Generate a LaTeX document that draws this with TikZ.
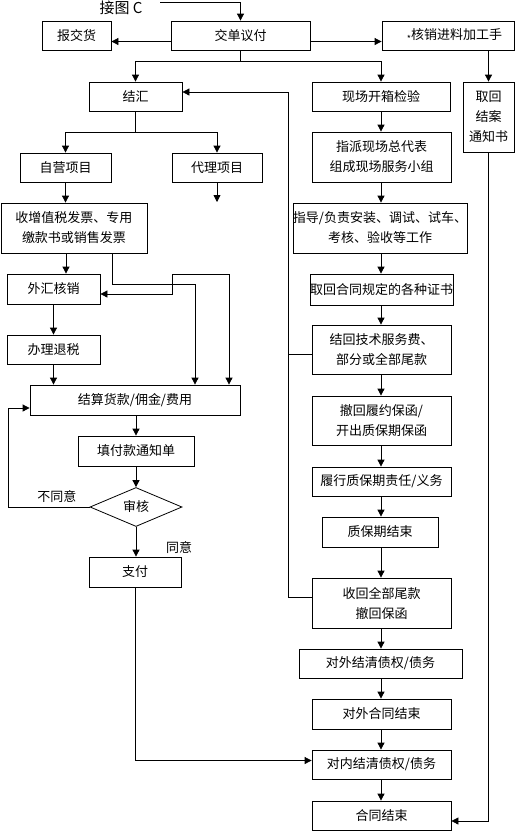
\documentclass[tikz,border=0pt]{standalone}
\usepackage{fontspec}
\setmainfont{Noto Sans CJK SC}
\usetikzlibrary{shapes.geometric,arrows.meta,calc}

\begin{document}
\begin{tikzpicture}[x=1pt,y=-1pt,>={Triangle[length=7pt,width=7pt]},
  box/.style={draw,line width=0.8pt,inner sep=0pt,align=center,
    font=\fontsize{13}{20}\selectfont},
  decide/.style={draw,diamond,line width=0.8pt,inner sep=0pt,
    font=\fontsize{13}{20}\selectfont},
  line/.style={line width=0.8pt}]

\useasboundingbox (0,0) rectangle (515,831);

%------------------------
% Top row
%------------------------
\node[font=\fontsize{15}{15}\selectfont] (jt) at (121,8) {接图 C};
\coordinate (jtend) at (160,2);
\node[box,minimum width=139pt,minimum height=29pt] (jd) at (240.5,35.5) {交单议付};
\node[box,minimum width=69pt,minimum height=29pt] (bjh) at (76.5,35.5) {报交货};
\node[box,minimum width=132pt,minimum height=29pt] (hx) at (448,35.5) {\quad\raisebox{-2.5pt}{\small *}核销进料加工手};
\node[box,minimum width=51pt,minimum height=70pt] (qh) at (488.5,117) {取回\\结案\\通知书};

%------------------------
% Left column
%------------------------
\node[box,minimum width=93pt,minimum height=29pt] (jh) at (135.5,96.5) {结汇};
\node[box,minimum width=91pt,minimum height=29pt] (zy) at (65.5,167.5) {自营项目};
\node[box,minimum width=90pt,minimum height=29pt] (dl) at (217,167.5) {代理项目};
\node[box,minimum width=146pt,minimum height=50pt] (sz) at (74,228) {收增值税发票、专用\\缴款书或销售发票};
\node[box,minimum width=93pt,minimum height=30pt] (wh) at (53.5,289) {外汇核销};
\node[box,minimum width=93pt,minimum height=29pt] (ts) at (53.5,349.5) {办理退税};
\node[box,minimum width=210pt,minimum height=30pt] (js) at (135,400) {结算货款/佣金/费用};
\node[box,minimum width=116pt,minimum height=30pt] (tf) at (136,451) {填付款通知单};
\node[decide,minimum width=92pt,minimum height=39pt] (sh) at (136,507) {审核};
\node[box,minimum width=92pt,minimum height=30pt] (zf) at (135,572) {支付};
\node[font=\fontsize{13}{13}\selectfont] (bty) at (57,497) {不同意};
\node[font=\fontsize{13}{13}\selectfont] (ty) at (179,548) {同意};

%------------------------
% Right column
%------------------------
\node[box,minimum width=138pt,minimum height=29pt] (xc) at (381,96.5) {现场开箱检验};
\node[box,minimum width=139pt,minimum height=50pt] (zp) at (381.5,157) {指派现场总代表\\组成现场服务小组};
\node[box,minimum width=162pt,minimum height=50pt] (zd) at (380,228) {指导/负责安装、调试、试车、\\考核、验收等工作};
\node[box,minimum width=139pt,minimum height=31pt] (qhz) at (381.5,289.5) {取回合同规定的各种证书};
\node[box,minimum width=139pt,minimum height=49pt] (jhj) at (381.5,349.5) {结回技术服务费、\\部分或全部尾款};
\node[box,minimum width=139pt,minimum height=49pt] (ch) at (381.5,420.5) {撤回履约保函/\\开出质保期保函};
\node[box,minimum width=139pt,minimum height=29pt] (lx) at (381.5,481.5) {履行质保期责任/义务};
\node[box,minimum width=116pt,minimum height=30pt] (zbj) at (380,532) {质保期结束};
\node[box,minimum width=139pt,minimum height=50pt] (sh2) at (381.5,603) {收回全部尾款\\撤回保函};
\node[box,minimum width=163pt,minimum height=29pt] (dwq) at (380.5,663.5) {对外结清债权/债务};
\node[box,minimum width=139pt,minimum height=30pt] (dwh) at (381.5,714) {对外合同结束};
\node[box,minimum width=139pt,minimum height=29pt] (dnq) at (381.5,764.5) {对内结清债权/债务};
\node[box,minimum width=139pt,minimum height=29pt] (ht) at (381.5,815.5) {合同结束};

%------------------------
% Junction points
%------------------------
\coordinate (br1) at (240.5,61);
\coordinate (br2) at (135.5,132);
\coordinate (dlend) at (217,202);
\coordinate (ka) at (195,284);
\coordinate (kb) at (172,294);
\coordinate (kc) at (229,274);
\coordinate (bk) at (8,408);
\coordinate (lp) at (288,92);

%------------------------
% Top connectors
%------------------------
\draw[line,->] (jtend) -| (jd.north);
\draw[line,->] ([yshift=-6pt]jd.west) -- ([yshift=-6pt]bjh.east);
\draw[line,->] ([yshift=-6pt]jd.east) -- ([yshift=-6pt]hx.west);
\draw[line] (jd.south) -- (br1);
\draw[line,->] (br1) -| (jh.north);
\draw[line,->] (br1) -| (xc.north);
\draw[line,->] (qh.north |- hx.south) -- (qh.north);
\draw[line,->] (qh.south) |- ([yshift=-5.5pt]ht.east);

%------------------------
% Left connectors
%------------------------
\draw[line] (jh.south) -- (br2);
\draw[line,->] (br2) -| (zy.north);
\draw[line,->] (br2) -| (dl.north);
\draw[line,->] (dl.south) -- (dlend);
\draw[line,->] (zy.south) -- (zy.south |- sz.north);
\draw[line,->] ([xshift=-8pt]sz.south) -- ([xshift=-8pt]sz.south |- wh.north);
\draw[line,->] ([xshift=38pt]sz.south) |- (ka) -- (ka |- js.north);
\draw[line,<->] (wh.east |- kb) -- (kb) |- (kc) -- (kc |- js.north);
\draw[line,->] (wh.south) -- (ts.north);
\draw[line,->] (ts.south) -- (ts.south |- js.north);
\draw[line,->] (js.south -| tf.north) -- (tf.north);
\draw[line,->] (tf.south) -- (sh.north);
\draw[line,->] (sh.south) -- (sh.south |- zf.north);
\draw[line,->] (sh.west) -| (bk) -- (js.west |- bk);
\draw[line,->] (zf.south) |- ([yshift=4pt]dnq.west);

%------------------------
% Right connectors
%------------------------
\draw[line,->] (xc.south) -- (xc.south |- zp.north);
\draw[line,->] (xc.south |- zp.south) -- (xc.south |- zd.north);
\draw[line,->] (xc.south |- zd.south) -- (xc.south |- qhz.north);
\draw[line,->] (xc.south |- qhz.south) -- (xc.south |- jhj.north);
\draw[line,->] (xc.south |- jhj.south) -- (xc.south |- ch.north);
\draw[line,->] (xc.south |- ch.south) -- (xc.south |- lx.north);
\draw[line,->] (xc.south |- lx.south) -- (xc.south |- zbj.north);
\draw[line,->] (xc.south |- zbj.south) -- (xc.south |- sh2.north);
\draw[line,->] (xc.south |- sh2.south) -- (xc.south |- dwq.north);
\draw[line,->] (xc.south |- dwq.south) -- (xc.south |- dwh.north);
\draw[line,->] (xc.south |- dwh.south) -- (xc.south |- dnq.north);
\draw[line,->] (xc.south |- dnq.south) -- (xc.south |- ht.north);

%------------------------
% Return line to 结汇
%------------------------
\draw[line,->] ([yshift=6pt]sh2.west) -| (lp) -- (jh.east |- lp);
\draw[line] ([yshift=-4.5pt]jhj.west) -- ++(-24,0);

\end{tikzpicture}
\end{document}
